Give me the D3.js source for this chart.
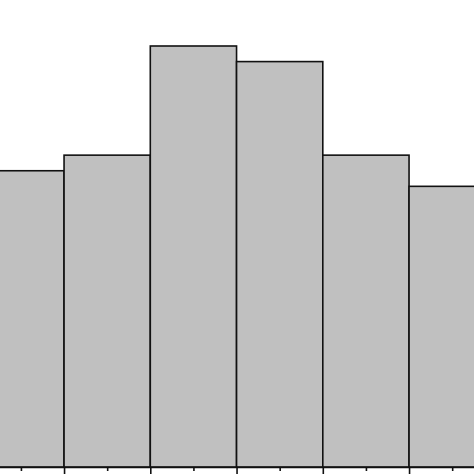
<!DOCTYPE html>
<html>
<head>
<meta charset="utf-8">
<script src="https://cdn.jsdelivr.net/npm/d3@7"></script>
<style>
  body { margin: 0; background: #fff; }
  svg { display: block; }
</style>
</head>
<body>
<div id="chart"></div>
<script>
// bin edges (lower bound of each bin) and counts
var binStarts = [1, 2, 3, 4, 5, 6];
var binWidth = 1;
var counts = [19, 20, 27, 26, 20, 18];
var majorTicks = [1, 2, 3, 4, 5, 6, 7];
var minorTicks = [1.5, 2.5, 3.5, 4.5, 5.5, 6.5];

var width = 474,
    height = 474,
    baseline = 467;

var svg = d3.select("#chart").append("svg")
    .attr("width", width)
    .attr("height", height);

// x: data units -> pixels (plot is cropped on both sides)
var x = d3.scaleLinear()
    .domain([1, 7])
    .range([-22.2, 495.3]);

var y = d3.scaleLinear()
    .domain([0, 27])
    .range([baseline, baseline - 421]);

// bars
svg.append("g")
    .selectAll("rect")
    .data(binStarts)
    .enter().append("rect")
    .attr("x", function (d) { return x(d); })
    .attr("width", function (d) { return x(d + binWidth) - x(d); })
    .attr("y", function (d, i) { return y(counts[i]); })
    .attr("height", function (d, i) { return y(0) - y(counts[i]); })
    .attr("fill", "#c0c0c0")
    .attr("stroke", "#111")
    .attr("stroke-width", 1.6);

// axis with long ticks at bin edges
var axisMajor = d3.axisBottom(x)
    .tickValues(majorTicks)
    .tickSize(10)
    .tickFormat("");

svg.append("g")
    .attr("transform", "translate(0," + baseline + ")")
    .call(axisMajor)
    .call(function (g) { g.select(".domain").attr("stroke-width", 1.6).attr("stroke", "#111"); })
    .selectAll(".tick line").attr("stroke-width", 1.6).attr("stroke", "#111");

// short ticks at bin midpoints
var axisMinor = d3.axisBottom(x)
    .tickValues(minorTicks)
    .tickSize(4)
    .tickFormat("");

svg.append("g")
    .attr("transform", "translate(0," + baseline + ")")
    .call(axisMinor)
    .call(function (g) { g.select(".domain").remove(); })
    .selectAll(".tick line").attr("stroke-width", 1.6).attr("stroke", "#111");
</script>
</body>
</html>
